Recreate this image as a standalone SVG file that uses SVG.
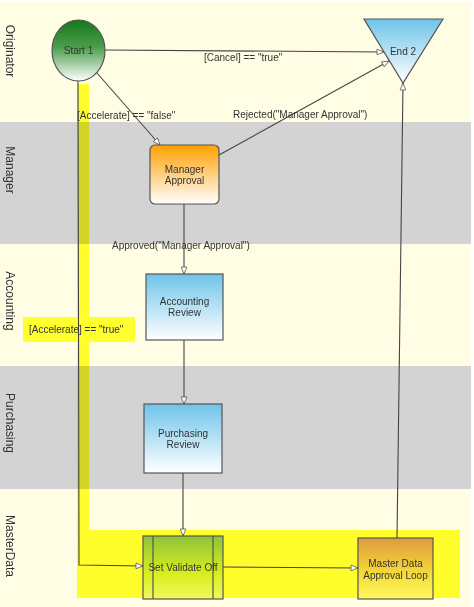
<svg xmlns="http://www.w3.org/2000/svg" width="474" height="607" viewBox="0 0 474 607">
<defs>
<linearGradient id="gStart" x1="0" y1="0" x2="0" y2="1"><stop offset="0" stop-color="#13791a"/><stop offset="0.45" stop-color="#4d9e4d"/><stop offset="1" stop-color="#ffffff"/></linearGradient>
<linearGradient id="gBlue" x1="0" y1="0" x2="0" y2="1"><stop offset="0" stop-color="#6ec4ea"/><stop offset="1" stop-color="#ffffff"/></linearGradient>
<linearGradient id="gOrange" x1="0" y1="0" x2="0" y2="1"><stop offset="0" stop-color="#ffa000"/><stop offset="1" stop-color="#ffffff"/></linearGradient>
<linearGradient id="gGreen" x1="0" y1="0" x2="0" y2="1"><stop offset="0" stop-color="#8dc43a"/><stop offset="0.6" stop-color="#d9ee1c"/><stop offset="1" stop-color="#f2f860"/></linearGradient>
<linearGradient id="gLoop" x1="0" y1="0" x2="0" y2="1"><stop offset="0" stop-color="#dd9c3c"/><stop offset="0.6" stop-color="#f6dc3a"/><stop offset="1" stop-color="#fff860"/></linearGradient>
<marker id="arr" viewBox="0 0 10 10" refX="10" refY="5" markerWidth="9" markerHeight="7" markerUnits="userSpaceOnUse" orient="auto"><path d="M0,1 L10,5 L0,9 Z" fill="#ffffff" stroke="#444" stroke-width="1"/></marker>
<style>
.lane-y{fill:#fffde4}
.lane-g{fill:#d3d3d3}
.lbl{font-family:"Liberation Sans",Arial,sans-serif;font-size:12px;fill:#333}
.t{font-family:"Liberation Sans",Arial,sans-serif;font-size:10px;fill:#333;text-anchor:middle}
.el{font-family:"Liberation Sans",Arial,sans-serif;font-size:10px;fill:#333}
.c{fill:none;stroke:#444;stroke-width:1.1}
.node{stroke:#555;stroke-width:1.2}
</style>
</defs>
<rect width="474" height="607" fill="#ffffff"/>
<g id="lanes">
<rect class="lane-y" x="0" y="2" width="471" height="120"/>
<rect class="lane-g" x="0" y="122" width="471" height="122"/>
<rect class="lane-y" x="0" y="244" width="471" height="122"/>
<rect class="lane-g" x="0" y="366" width="471" height="123"/>
<rect class="lane-y" x="0" y="489" width="471" height="118"/>
<text class="lbl" transform="translate(6,51) rotate(90)" text-anchor="middle">Originator</text>
<text class="lbl" transform="translate(6,170) rotate(90)" text-anchor="middle">Manager</text>
<text class="lbl" transform="translate(6,301) rotate(90)" text-anchor="middle">Accounting</text>
<text class="lbl" transform="translate(6,423) rotate(90)" text-anchor="middle">Purchasing</text>
<text class="lbl" transform="translate(6,546) rotate(90)" text-anchor="middle">MasterData</text>
</g>
<g id="highlight">
<polygon points="77,84 89,84 89,530 460,530 460,598 77,598" fill="#ffff30" style="mix-blend-mode:multiply"/>
<rect x="23" y="317" width="112" height="25" fill="#ffff30"/>
</g>
<g id="connectors">
<line class="c" x1="105" y1="50" x2="384" y2="52" marker-end="url(#arr)"/>
<text class="el" x="204" y="61">[Cancel] == "true"</text>
<line class="c" x1="97" y1="73" x2="160" y2="145" marker-end="url(#arr)"/>
<text class="el" x="77" y="119">[Accelerate] == "false"</text>
<line class="c" x1="219" y1="155" x2="389" y2="61" marker-end="url(#arr)"/>
<text class="el" x="233" y="118">Rejected("Manager Approval")</text>
<line class="c" x1="184" y1="204" x2="184" y2="274" marker-end="url(#arr)"/>
<text class="el" x="112" y="249">Approved("Manager Approval")</text>
<line class="c" x1="184" y1="340" x2="184" y2="404" marker-end="url(#arr)"/>
<line class="c" x1="183" y1="473" x2="183" y2="536" marker-end="url(#arr)"/>
<polyline class="c" points="78,81 79,565 143,566" marker-end="url(#arr)"/>
<text class="el" x="29" y="333">[Accelerate] == "true"</text>
<line class="c" x1="223" y1="567" x2="358" y2="568" marker-end="url(#arr)"/>
<line class="c" x1="397" y1="538" x2="403" y2="83" marker-end="url(#arr)"/>
</g>
<g id="start1">
<ellipse class="node" cx="78.5" cy="50.5" rx="26.5" ry="30.5" fill="url(#gStart)"/>
<text class="t" x="78.5" y="54">Start 1</text>
</g>
<g id="end2">
<polygon class="node" points="364,19 443,19 403,83" fill="url(#gBlue)"/>
<text class="t" x="403" y="55">End 2</text>
</g>
<g id="managerApproval">
<rect class="node" x="150" y="145" width="69" height="59" rx="5" fill="url(#gOrange)"/>
<text class="t" x="184.5" y="173">Manager</text>
<text class="t" x="184.5" y="184">Approval</text>
</g>
<g id="accountingReview">
<rect class="node" x="146" y="274" width="77" height="66" fill="url(#gBlue)"/>
<text class="t" x="184.5" y="305">Accounting</text>
<text class="t" x="184.5" y="316">Review</text>
</g>
<g id="purchasingReview">
<rect class="node" x="144" y="404" width="78" height="69" fill="url(#gBlue)"/>
<text class="t" x="183" y="437">Purchasing</text>
<text class="t" x="183" y="448">Review</text>
</g>
<g id="setValidateOff">
<rect class="node" x="143" y="536" width="80" height="63" fill="url(#gGreen)"/>
<line class="node" x1="153" y1="536" x2="153" y2="599"/>
<line class="node" x1="213" y1="536" x2="213" y2="599"/>
<text class="t" x="183" y="571">Set Validate Off</text>
</g>
<g id="masterDataLoop">
<rect class="node" x="358" y="538" width="75" height="61" fill="url(#gLoop)"/>
<text class="t" x="395.5" y="567">Master Data</text>
<text class="t" x="395.5" y="579">Approval Loop</text>
</g>
</svg>
